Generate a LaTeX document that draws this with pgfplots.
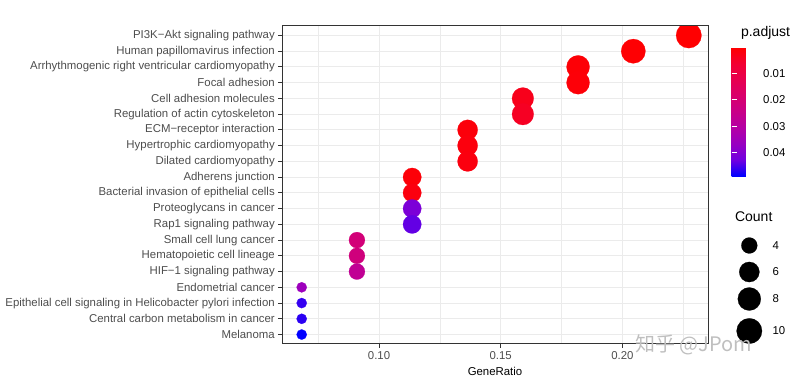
\documentclass[border=0pt]{standalone}
\usepackage{fontspec}
\setmainfont{Liberation Sans}
\newfontfamily\cjk{Noto Sans CJK SC}
\usepackage{pgfplots}
\pgfplotsset{compat=1.18}
\usepackage{pgfplotstable}

\pgfplotstableread{
y x count p
20 0.2273 10 0.0003
19 0.2045 9 0.0006
18 0.1818 8 0.0010
17 0.1818 8 0.0012
16 0.1591 7 0.0035
15 0.1591 7 0.0045
14 0.1364 6 0.0015
13 0.1364 6 0.0018
12 0.1364 6 0.0020
11 0.1136 5 0.0012
10 0.1136 5 0.0020
9 0.1136 5 0.0410
8 0.1136 5 0.0435
7 0.0909 4 0.0210
6 0.0909 4 0.0220
5 0.0909 4 0.0270
4 0.0682 3 0.0355
3 0.0682 3 0.0460
2 0.0682 3 0.0465
1 0.0682 3 0.0488
}\datatable

\pgfplotstableread{
x y count
749.3 133.5 4
749.3 107.0 6
749.3 80.0 8
749.3 48.0 10
}\sizetable

\definecolor{border}{RGB}{51,51,51}
\definecolor{gridc}{RGB}{235,235,235}
\definecolor{axtext}{RGB}{77,77,77}

\begin{document}
\begin{tikzpicture}[x=1pt,y=1pt]
\path[use as bounding box] (0,0) rectangle (799,379);
\begin{axis}[
  at={(282pt,35pt)}, anchor=south west,
  scale only axis, width=426pt, height=318pt,
  xmin=0.0601, xmax=0.2352, ymin=0.4, ymax=20.6,
  xtick={0.10,0.15,0.20}, xticklabels={0.10,0.15,0.20},
  minor xtick={0.075,0.125,0.175,0.225},
  ytick={1,...,20},
  yticklabels={Melanoma, Central carbon metabolism in cancer, Epithelial cell signaling in Helicobacter pylori infection, Endometrial cancer, HIF−1 signaling pathway, Hematopoietic cell lineage, Small cell lung cancer, Rap1 signaling pathway, Proteoglycans in cancer, Bacterial invasion of epithelial cells, Adherens junction, Dilated cardiomyopathy, Hypertrophic cardiomyopathy, ECM−receptor interaction, Regulation of actin cytoskeleton, Cell adhesion molecules, Focal adhesion, Arrhythmogenic right ventricular cardiomyopathy, Human papillomavirus infection, PI3K−Akt signaling pathway},
  xtick pos=bottom, ytick pos=left, tick align=outside,
  major tick length=3.7pt, minor tick length=0pt,
  tick style={border, line width=0.9pt},
  xmajorgrids, ymajorgrids, xminorgrids,
  major grid style={gridc, line width=1.1pt},
  minor grid style={gridc, line width=0.55pt},
  axis line style={border, line width=1pt},
  ticklabel style={font=\fontsize{11.4}{13}\selectfont, text=axtext},
  clip marker paths=true,
  colormap={gg}{rgb255=(255,0,0) rgb255=(243,0,49) rgb255=(231,0,79) rgb255=(217,0,108) rgb255=(200,0,136) rgb255=(180,0,165) rgb255=(152,0,193) rgb255=(113,0,224) rgb255=(0,0,255)},
  point meta min=0.0002, point meta max=0.0488,
  colorbar,
  colorbar style={
    at={(1.0556,0.933)}, anchor=north west,
    scale only axis, width=25pt, height=128.7pt,
    y dir=reverse,
    ytick={0.01,0.02,0.03,0.04},
    yticklabels={0.01,0.02,0.03,0.04},
    scaled y ticks=false,
    xmajorgrids=false, ymajorgrids=false, xminorgrids=false,
    tick align=inside, ytick pos=both, yticklabel pos=right,
    major tick length=5pt,
    tick style={white, line width=0.8pt},
    axis line style={draw=none},
    yticklabel style={font=\fontsize{11.4}{13}\selectfont, text=black, anchor=west, xshift=3pt},
  },
  extra description/.code={\draw[border, line width=1pt] (rel axis cs:0,0) rectangle (rel axis cs:1,1);},
]
\addplot[scatter, only marks, mark=*,
  point meta=\thisrow{p},
  scatter/use mapped color={draw=mapped color, fill=mapped color},
  mark options={line width=0.2pt},
  visualization depends on={(10.2+15.2*sqrt((\thisrow{count}-3)/7))/2 \as \rad},
  scatter/@pre marker code/.append style={/tikz/mark size=\rad},
] table[x=x, y=y] {\datatable};
\end{axis}

\begin{axis}[
  at={(0pt,0pt)}, anchor=south west,
  scale only axis, width=799pt, height=379pt,
  xmin=0, xmax=799, ymin=0, ymax=379,
  hide axis, clip=false,
]
\addplot[scatter, only marks, mark=*,
  scatter/use mapped color={draw=black, fill=black},
  mark options={line width=0.2pt},
  visualization depends on={(10.2+15.2*sqrt((\thisrow{count}-3)/7))/2 \as \rad},
  scatter/@pre marker code/.append style={/tikz/mark size=\rad},
] table[x=x, y=y] {\sizetable};
\end{axis}

\node[anchor=west, font=\fontsize{14}{16}\selectfont] at (737.5,345.7) {p.adjust};
\node[anchor=west, font=\fontsize{14}{16}\selectfont] at (731.5,162.3) {Count};
\node[anchor=west, font=\fontsize{11.4}{13}\selectfont] at (769,133.5) {4};
\node[anchor=west, font=\fontsize{11.4}{13}\selectfont] at (769,107) {6};
\node[anchor=west, font=\fontsize{11.4}{13}\selectfont] at (769,80) {8};
\node[anchor=west, font=\fontsize{11.4}{13}\selectfont] at (769,48) {10};
\node[font=\fontsize{11.4}{13}\selectfont] at (495,7.3) {GeneRatio};
\node[anchor=west, text=black!25, font=\cjk\fontsize{20}{22}\selectfont, inner sep=0pt] at (635,34) {知乎 @JPom};
\end{tikzpicture}
\end{document}
